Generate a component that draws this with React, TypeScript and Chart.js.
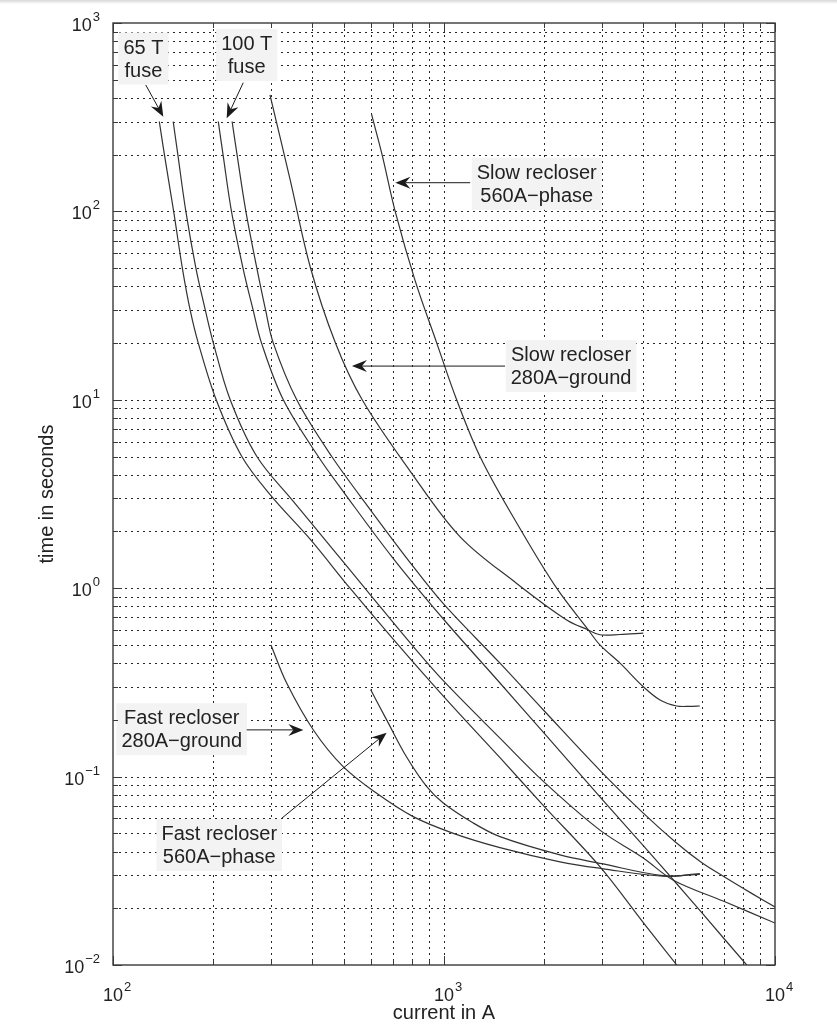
import React, { useEffect, useRef } from 'react';
import { Chart, registerables } from 'chart.js';

Chart.register(...registerables);

// ---------------- data (current in A, time in s) ----------------
const fuse65MinX = [138, 143, 152.5, 162, 171, 181, 205, 245, 300, 394, 520, 700, 1000, 1476, 2000, 2958, 4000, 5050];
const fuse65MinY = [300, 200, 100, 50, 30, 20, 10, 5, 3.1, 1.82, 1.0, 0.54, 0.265, 0.126, 0.07, 0.0333, 0.0168, 0.0100];

const fuse65TotalX = [152, 157, 166, 178, 190, 201, 226, 272, 350, 450, 600, 800, 1000, 1476, 2000, 2958, 4000, 4932, 7000, 10000];
const fuse65TotalY = [300, 200, 100, 50, 30, 20, 10, 5, 2.9, 1.7, 0.92, 0.5, 0.32, 0.16, 0.094, 0.052, 0.037, 0.0282, 0.0218, 0.0167];

const fuse100MinX = [208, 215, 228, 247, 265, 281, 327, 417, 500, 700, 1000, 1476, 2000, 3000, 4000, 5047, 6000, 8213];
const fuse100MinY = [300, 200, 100, 50, 30, 20, 10, 5, 3.2, 1.45, 0.68, 0.314, 0.171, 0.076, 0.043, 0.027, 0.019, 0.010];

const fuse100TotalX = [229, 237, 252, 272, 289, 305, 359, 458, 600, 800, 1000, 1476, 2000, 2958, 4000, 5000, 6000, 7000, 8500, 10000];
const fuse100TotalY = [300, 200, 100, 50, 30, 20, 10, 5, 2.6, 1.33, 0.82, 0.40, 0.225, 0.108, 0.064, 0.045, 0.035, 0.0295, 0.024, 0.0203];

const slow280GroundX = [298, 343, 394, 470, 566, 789, 1117, 1658, 2348, 2729, 2958, 3400, 4000];
const slow280GroundY = [415, 147, 51, 20, 10, 4.2, 1.88, 1.06, 0.678, 0.6, 0.566, 0.568, 0.578];

const slow560PhaseX = [604, 650, 712, 817, 951, 1092, 1300, 1717, 2190, 2729, 2958, 3402, 4000, 4494, 5047, 5534, 5929];
const slow560PhaseY = [328, 200, 100, 43.2, 20, 10, 4.79, 2.0, 1.0, 0.6, 0.5, 0.4, 0.3, 0.255, 0.237, 0.236, 0.237];

const fast280GroundX = [300, 335, 403, 496, 626, 807, 1067, 1476, 2241, 3000, 4587, 5929];
const fast280GroundY = [0.5, 0.3126, 0.1768, 0.1129, 0.0815, 0.0613, 0.050, 0.042, 0.0353, 0.0325, 0.0296, 0.0306];

const fast560PhaseX = [600, 671, 771, 887, 995, 1226, 1476, 2241, 3000, 4587, 5929];
const fast560PhaseY = [0.29, 0.2, 0.127, 0.0884, 0.0724, 0.0567, 0.048, 0.0384, 0.0345, 0.0298, 0.0303];

// axis decades and tick label exponents
const xDecades = [100, 1000, 10000];
const xExponents = ['2', '3', '4'];
const yDecades = [0.01, 0.1, 1, 10, 100, 1000];
const yExponents = ['\u22122', '\u22121', '0', '1', '2', '3'];
const minorMultipliers = [2, 3, 4, 5, 6, 7, 8, 9];

const xTitle = 'current in A';
const yTitle = 'time in seconds';

// annotations (anchor positions in data coordinates)
const annotations = [
  { lines: ['65 T', 'fuse'], at: [123.6, 648], tail: [125.6, 469], tip: [141.9, 318] },
  { lines: ['100 T', 'fuse'], at: [253.5, 676], tail: [247.4, 482], tip: [220.5, 312] },
  { lines: ['Slow recloser', '560A\u2212phase'], at: [1906, 140], tail: [1200, 142], tip: [713, 142] },
  { lines: ['Slow recloser', '280A\u2212ground'], at: [2420, 15.1], tail: [1529, 15.1], tip: [527, 15.1] },
  { lines: ['Fast recloser', '280A\u2212ground'], at: [161.3, 0.1785], tail: [253.5, 0.177], tip: [376, 0.177] },
  { lines: ['Fast recloser', '560A\u2212phase'], at: [209.4, 0.04335], tail: [323.4, 0.0601], tip: [671, 0.171] },
];

// ---------------- styles ----------------
const W = 837;
const H = 1024;
const CURVE_COLOR = '#333333';
const FRAME_COLOR = '#3a3a3a';
const GRID_COLOR = 'rgba(0,0,0,0.85)';
const TEXT_COLOR = '#222222';
const BOX_BG = '#f3f3f3';
const FONT_FAMILY = '"Liberation Sans", Arial, Helvetica, sans-serif';
const ANNO_FONT = `20px ${FONT_FAMILY}`;
const BASE_FONT = `18px ${FONT_FAMILY}`;
const SUP_FONT = `13px ${FONT_FAMILY}`;
const TITLE_FONT = `20px ${FONT_FAMILY}`;

function drawArrow(ctx: CanvasRenderingContext2D, x0: number, y0: number, x1: number, y1: number) {
  const ang = Math.atan2(y1 - y0, x1 - x0);
  const L = 15, HW = 6, N = 5;
  ctx.beginPath();
  ctx.moveTo(x0, y0);
  ctx.lineTo(x1 - Math.cos(ang) * (L - N), y1 - Math.sin(ang) * (L - N));
  ctx.stroke();
  ctx.save();
  ctx.translate(x1, y1);
  ctx.rotate(ang);
  ctx.beginPath();
  ctx.moveTo(0, 0);
  ctx.lineTo(-L, -HW);
  ctx.lineTo(-L + N, 0);
  ctx.lineTo(-L, HW);
  ctx.closePath();
  ctx.fill();
  ctx.restore();
}

function drawPower(ctx: CanvasRenderingContext2D, exp: string, x: number, baseline: number, align: 'right' | 'center') {
  ctx.font = BASE_FONT;
  const wBase = ctx.measureText('10').width;
  ctx.font = SUP_FONT;
  const wSup = ctx.measureText(exp).width;
  const xBase = align === 'right' ? x - wSup - wBase - 1 : x - wBase / 2;
  ctx.textAlign = 'left';
  ctx.textBaseline = 'alphabetic';
  ctx.font = BASE_FONT;
  ctx.fillText('10', xBase, baseline);
  ctx.font = SUP_FONT;
  ctx.fillText(exp, xBase + wBase + 1, baseline - 10);
}

function gridValues(decades: number[]) {
  const out: { v: number; major: boolean }[] = [];
  decades.forEach((d, i) => {
    out.push({ v: d, major: true });
    if (i < decades.length - 1) minorMultipliers.forEach((m) => out.push({ v: d * m, major: false }));
  });
  return out;
}

const decorPlugin = {
  id: 'decor',
  beforeDraw(chart: any) {
    const ctx = chart.ctx as CanvasRenderingContext2D;
    ctx.save();
    ctx.fillStyle = '#ffffff';
    ctx.fillRect(0, 0, chart.width, chart.height);
    const g = ctx.createLinearGradient(0, 0, 0, 4);
    g.addColorStop(0, '#d6d6d6');
    g.addColorStop(1, '#ffffff');
    ctx.fillStyle = g;
    ctx.fillRect(0, 0, chart.width, 4);
    ctx.restore();
  },
  beforeDatasetsDraw(chart: any) {
    const ctx = chart.ctx as CanvasRenderingContext2D;
    const { left, right, top, bottom } = chart.chartArea;
    const xs = chart.scales.x, ys = chart.scales.y;
    ctx.save();
    ctx.strokeStyle = GRID_COLOR;
    ctx.lineWidth = 1;
    ctx.setLineDash([2, 4]);
    gridValues(xDecades).forEach(({ v }) => {
      const px = Math.round(xs.getPixelForValue(v)) + 0.5;
      if (px <= left + 1 || px >= right - 1) return;
      ctx.beginPath();
      ctx.moveTo(px, top);
      ctx.lineTo(px, bottom);
      ctx.stroke();
    });
    gridValues(yDecades).forEach(({ v }) => {
      const py = Math.round(ys.getPixelForValue(v)) + 0.5;
      if (py <= top + 1 || py >= bottom - 1) return;
      ctx.beginPath();
      ctx.moveTo(left, py);
      ctx.lineTo(right, py);
      ctx.stroke();
    });
    ctx.restore();
  },
  afterDatasetsDraw(chart: any) {
    const ctx = chart.ctx as CanvasRenderingContext2D;
    const { left, right, top, bottom } = chart.chartArea;
    const xs = chart.scales.x, ys = chart.scales.y;
    ctx.save();

    // annotations
    annotations.forEach((a) => {
      const cx = xs.getPixelForValue(a.at[0]);
      const cy = ys.getPixelForValue(a.at[1]);
      ctx.font = ANNO_FONT;
      const lineH = 23;
      const w = Math.max(...a.lines.map((l) => ctx.measureText(l).width)) + 10;
      const h = a.lines.length * lineH + 6;
      ctx.fillStyle = BOX_BG;
      ctx.fillRect(cx - w / 2, cy - h / 2, w, h);
      ctx.fillStyle = TEXT_COLOR;
      ctx.textAlign = 'center';
      ctx.textBaseline = 'middle';
      a.lines.forEach((l, i) => {
        ctx.fillText(l, cx, cy + (i - (a.lines.length - 1) / 2) * lineH + 1);
      });
      ctx.strokeStyle = '#1a1a1a';
      ctx.fillStyle = '#1a1a1a';
      ctx.lineWidth = 1;
      drawArrow(
        ctx,
        xs.getPixelForValue(a.tail[0]), ys.getPixelForValue(a.tail[1]),
        xs.getPixelForValue(a.tip[0]), ys.getPixelForValue(a.tip[1])
      );
    });

    // frame
    ctx.strokeStyle = FRAME_COLOR;
    ctx.lineWidth = 1.4;
    ctx.strokeRect(left, top, right - left, bottom - top);

    // inner ticks
    ctx.lineWidth = 1;
    gridValues(xDecades).forEach(({ v, major }) => {
      const px = Math.round(xs.getPixelForValue(v)) + 0.5;
      const len = major ? 9 : 5;
      ctx.beginPath();
      ctx.moveTo(px, bottom); ctx.lineTo(px, bottom - len);
      ctx.moveTo(px, top); ctx.lineTo(px, top + len);
      ctx.stroke();
    });
    gridValues(yDecades).forEach(({ v, major }) => {
      const py = Math.round(ys.getPixelForValue(v)) + 0.5;
      const len = major ? 9 : 5;
      ctx.beginPath();
      ctx.moveTo(left, py); ctx.lineTo(left + len, py);
      ctx.moveTo(right, py); ctx.lineTo(right - len, py);
      ctx.stroke();
    });

    // tick labels
    ctx.fillStyle = TEXT_COLOR;
    yDecades.forEach((v, i) => {
      const py = ys.getPixelForValue(v);
      drawPower(ctx, yExponents[i], left - 13, py + 8, 'right');
    });
    xDecades.forEach((v, i) => {
      const px = xs.getPixelForValue(v);
      drawPower(ctx, xExponents[i], px, bottom + 36, 'center');
    });

    // axis titles
    ctx.font = TITLE_FONT;
    ctx.textAlign = 'center';
    ctx.textBaseline = 'middle';
    ctx.fillText(xTitle, (left + right) / 2, bottom + 48);
    ctx.save();
    ctx.translate(47, (top + bottom) / 2);
    ctx.rotate(-Math.PI / 2);
    ctx.fillText(yTitle, 0, 0);
    ctx.restore();

    ctx.restore();
  },
};

function series(xsArr: number[], ysArr: number[]) {
  return xsArr.map((x, i) => ({ x, y: ysArr[i] }));
}

export default function App() {
  const canvasRef = useRef<HTMLCanvasElement | null>(null);

  useEffect(() => {
    const canvas = canvasRef.current;
    if (!canvas) return;
    const curves = [
      { label: '65T minimum melt', d: series(fuse65MinX, fuse65MinY) },
      { label: '65T total clearing', d: series(fuse65TotalX, fuse65TotalY) },
      { label: '100T minimum melt', d: series(fuse100MinX, fuse100MinY) },
      { label: '100T total clearing', d: series(fuse100TotalX, fuse100TotalY) },
      { label: 'Slow recloser 280A-ground', d: series(slow280GroundX, slow280GroundY) },
      { label: 'Slow recloser 560A-phase', d: series(slow560PhaseX, slow560PhaseY) },
      { label: 'Fast recloser 280A-ground', d: series(fast280GroundX, fast280GroundY) },
      { label: 'Fast recloser 560A-phase', d: series(fast560PhaseX, fast560PhaseY) },
    ];
    const chart = new Chart(canvas, {
      type: 'scatter',
      data: {
        datasets: curves.map((c) => ({
          label: c.label,
          data: c.d,
          showLine: true,
          borderColor: CURVE_COLOR,
          backgroundColor: CURVE_COLOR,
          borderWidth: 1.2,
          pointRadius: 0,
          pointHoverRadius: 0,
          tension: 0.35,
          fill: false,
        })),
      },
      options: {
        responsive: false,
        animation: false,
        devicePixelRatio: 1,
        events: [],
        layout: { padding: { left: 113, top: 23, right: 62, bottom: 59 } },
        plugins: { legend: { display: false }, tooltip: { enabled: false } },
        scales: {
          x: { type: 'logarithmic', min: 100, max: 10000, display: false },
          y: { type: 'logarithmic', min: 0.01, max: 1000, display: false },
        },
      } as any,
      plugins: [decorPlugin as any],
    });
    return () => chart.destroy();
  }, []);

  return (
    <div style={{ position: 'absolute', left: 0, top: 0, width: W, height: H, background: '#fff' }}>
      <canvas ref={canvasRef} width={W} height={H} style={{ display: 'block', width: W, height: H }} />
    </div>
  );
}
